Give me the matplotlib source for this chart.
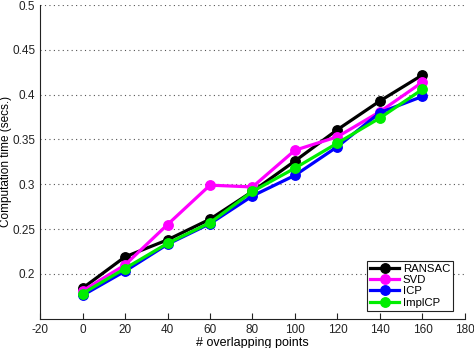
import matplotlib
matplotlib.use("Agg")
import matplotlib.pyplot as plt

plt.rcParams['font.family'] = ['Liberation Sans', 'DejaVu Sans']

points = [0, 20, 40, 60, 80, 100, 120, 140, 160]
ransac = [0.184, 0.219, 0.238, 0.261, 0.292, 0.326, 0.361, 0.393, 0.422]
svd = [0.181, 0.210, 0.255, 0.299, 0.297, 0.338, 0.353, 0.381, 0.414]
icp = [0.176, 0.203, 0.233, 0.256, 0.287, 0.310, 0.342, 0.380, 0.398]
impicp = [0.178, 0.206, 0.234, 0.257, 0.292, 0.318, 0.346, 0.374, 0.406]

series = [("RANSAC", ransac, "#000000"),
          ("SVD", svd, "#ff00ff"),
          ("ICP", icp, "#0000ff"),
          ("ImplCP", impicp, "#00ee00")]

xticks = [-20, 0, 20, 40, 60, 80, 100, 120, 140, 160, 180]
yticks = [0.2, 0.25, 0.3, 0.35, 0.4, 0.45, 0.5]

fig = plt.figure(figsize=(4.74, 3.48), dpi=100)
ax = fig.add_axes([0.0844, 0.0842, 0.8966, 0.9014])

for name, vals, col in series:
    ax.plot(points, vals, '-o', color=col, lw=2.3, ms=6.8, label=name)

ax.set_xlim(-20, 180)
ax.set_ylim(0.15, 0.5)
ax.set_xticks(xticks)
ax.set_xticklabels([str(t) for t in xticks])
ax.set_yticks(yticks)
ax.set_yticklabels(["0.2", "0.25", "0.3", "0.35", "0.4", "0.45", "0.5"])
ax.yaxis.grid(True, linestyle=(0, (1, 3)), color='#555555', lw=0.8)
ax.set_axisbelow(True)

for s in ('top', 'right'):
    ax.spines[s].set_visible(False)
for s in ('left', 'bottom'):
    ax.spines[s].set_linewidth(0.8)
    ax.spines[s].set_color('#222222')

ax.tick_params(direction='in', length=4, width=0.8, labelsize=8.5, colors='#222222')
ax.tick_params(axis='y', length=0)

ax.set_xlabel("# overlapping points", fontsize=9, labelpad=1)
ax.set_ylabel("Computation time (secs.)", fontsize=8.5)
ax.yaxis.set_label_coords(-0.066, 0.5)

leg = ax.legend(loc='lower right', bbox_to_anchor=(0.98, 0.015), fontsize=8.2,
                fancybox=False, framealpha=1, edgecolor='#222222',
                handlelength=2.6, handletextpad=0.3, labelspacing=0.12,
                borderpad=0.25, borderaxespad=0.3)
leg.get_frame().set_linewidth(0.8)

fig.savefig("out.png", dpi=100)
